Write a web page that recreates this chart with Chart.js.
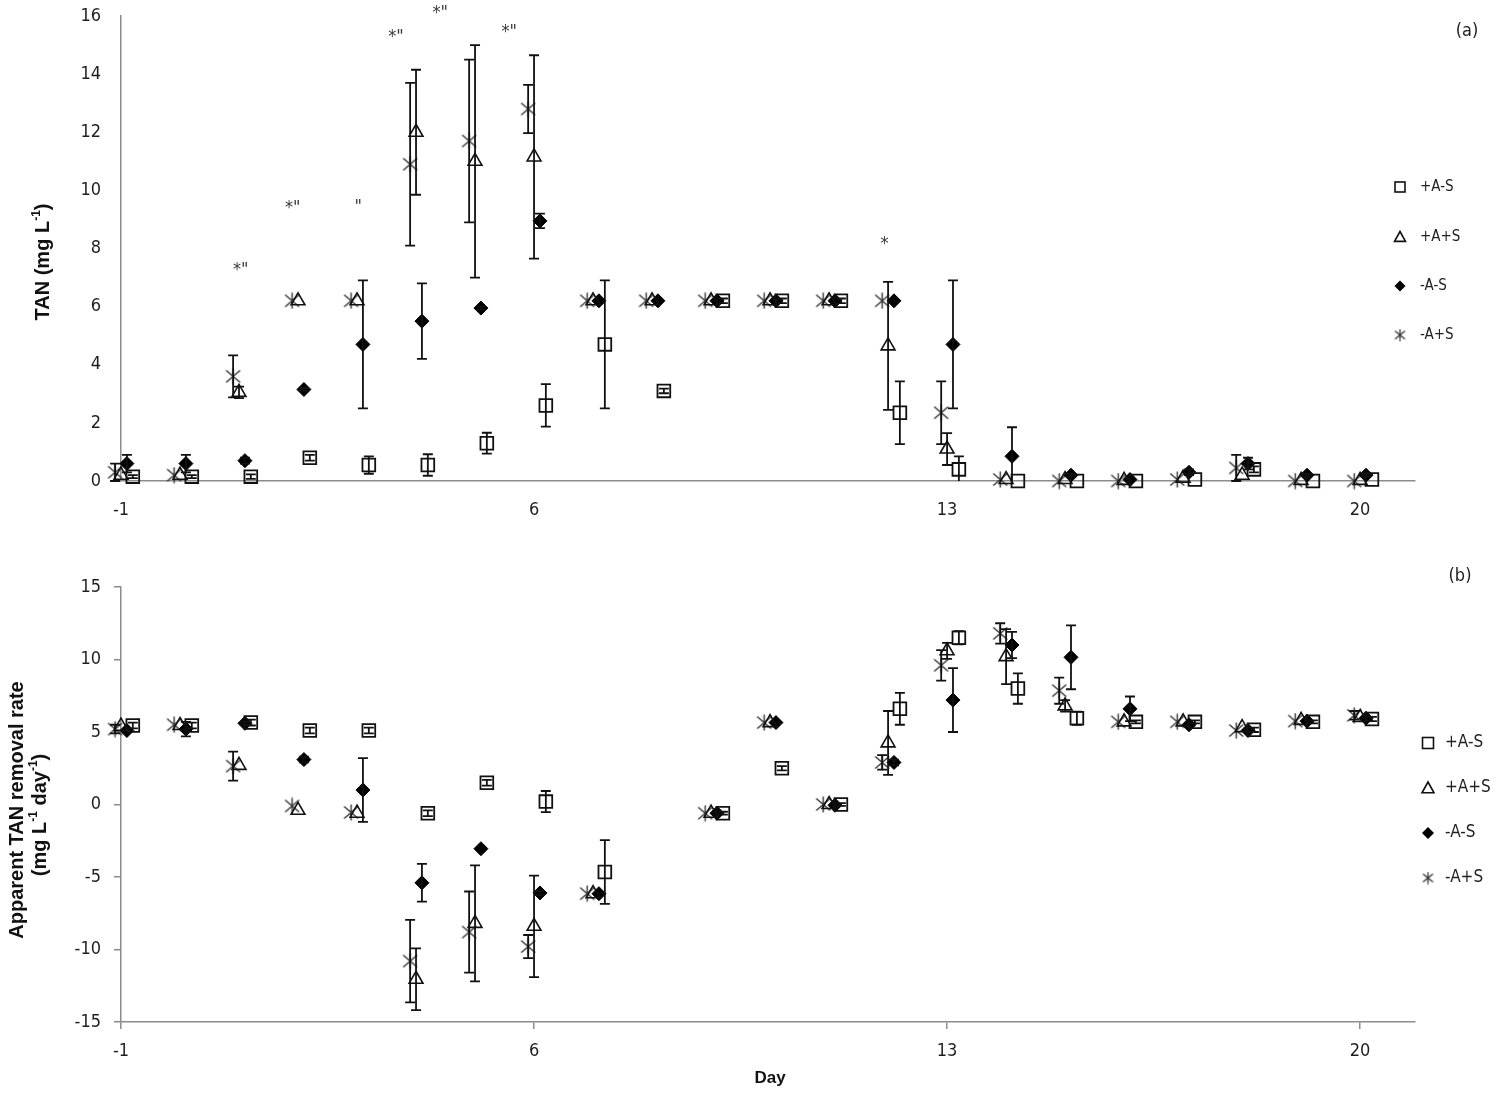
<!DOCTYPE html>
<html><head><meta charset="utf-8">
<script src="https://cdn.jsdelivr.net/npm/chart.js@4.4.1/dist/chart.umd.min.js"></script>
<style>
html,body{margin:0;padding:0;background:#fff;}
#wrap{position:relative;width:1500px;height:1095px;background:#fff;}
canvas{position:absolute;left:0;}
#cA{top:0;} #cB{top:540px;}
</style></head><body>
<div id="wrap">
<canvas id="cA" width="1500" height="540" style="width:1500px;height:540px"></canvas>
<canvas id="cB" width="1500" height="555" style="width:1500px;height:555px"></canvas>
</div>
<script>
// ---------------- DATA ----------------
const days = [-1,0,1,2,3,4,5,6,7,8,9,10,11,12,13,14,15,16,17,18,19,20];
const seriesNames = ['+A-S','+A+S','-A-S','-A+S'];
const xTickDays = [-1,6,13,20];

// Panel (a): TAN (mg L-1)
const tan_pAmS = [0.15,0.15,0.15,0.8,0.55,0.55,1.3,2.6,4.7,3.1,6.2,6.2,6.2,2.35,0.4,0.0,0.0,0.0,0.05,0.4,0.0,0.05];
const tan_pApS = [0.2,0.2,3.05,6.2,6.2,12.0,11.0,11.15,6.2,6.2,6.2,6.2,6.2,4.65,1.1,0.05,0.05,0.02,0.1,0.2,0.02,0.02];
const tan_mAmS = [0.6,0.6,0.7,3.15,4.7,5.5,5.95,8.95,6.2,6.2,6.2,6.2,6.2,6.2,4.7,0.85,0.2,0.05,0.3,0.6,0.2,0.2];
const tan_mApS = [0.3,0.2,3.6,6.2,6.2,10.9,11.7,12.8,6.2,6.2,6.2,6.2,6.2,6.2,2.35,0.05,0.0,0.0,0.05,0.45,0.0,0.0];
const tanErr_pAmS = [0.05,0.05,0.08,0.1,0.3,0.37,0.36,0.73,2.2,0.08,0.08,0.08,0.08,1.08,0.45,0,0,0,0,0.1,0,0];
const tanErr_pApS = [0,0,0.2,0,0,2.15,4.0,3.5,0,0,0,0,0,2.2,0.55,0,0,0,0,0,0,0];
const tanErr_mAmS = [0.3,0.3,0.1,0.05,2.2,1.3,0.05,0.25,0,0,0,0,0,0,2.2,1.0,0.05,0,0.1,0.2,0.05,0.05];
const tanErr_mApS = [0.3,0,0.72,0,0,2.8,2.8,0.83,0,0,0,0,0,0,1.08,0,0,0,0,0.45,0,0];

// Significance marks on panel (a)
const annotDay = [1.03,1.91,3.02,3.66,4.41,5.58,11.94];
const annotTAN = [7.26,9.39,9.43,15.27,16.1,15.45,8.15];
const annotText = ['*"','*"','"','*"','*"','*"','*'];

// Panel (b): apparent TAN removal rate (mg L-1 day-1); day 8 has no value
const rate_pAmS = [5.45,5.45,5.65,5.1,5.1,-0.6,1.5,0.2,-4.65,null,-0.6,2.5,0.0,6.6,11.5,8.0,5.95,5.7,5.7,5.15,5.7,5.9];
const rate_pApS = [5.4,5.45,2.7,-0.4,-0.6,-12.05,-8.2,-8.4,-6.15,null,-0.6,5.65,0.0,4.25,10.6,10.2,6.8,5.7,5.7,5.3,5.8,6.0];
const rate_mAmS = [5.1,5.2,5.6,3.1,1.0,-5.4,-3.05,-6.1,-6.15,null,-0.6,5.65,-0.05,2.9,7.2,11.0,10.15,6.6,5.5,5.1,5.75,5.95];
const rate_mApS = [5.2,5.5,2.65,-0.1,-0.55,-10.8,-8.8,-9.8,-6.15,null,-0.6,5.65,0.0,2.9,9.6,11.8,7.85,5.7,5.7,5.1,5.75,6.15];
const rateErr_pAmS = [0.2,0.2,0.2,0.2,0.2,0.2,0.2,0.73,2.2,null,0.1,0.15,0.1,1.1,0.45,1.05,0.45,0.1,0.1,0.15,0.1,0.15];
const rateErr_pApS = [0,0,0,0,0,2.13,4.0,3.5,0,null,0,0,0,2.2,0.55,1.9,0.4,0,0,0,0,0];
const rateErr_mAmS = [0,0.5,0.1,0.2,2.2,1.3,0,0.15,0,null,0,0,0,0.2,2.2,0.9,2.2,0.85,0,0,0,0];
const rateErr_mApS = [0.3,0,1.0,0,0,2.85,2.8,0.8,0,null,0,0,0,0.5,1.05,0.7,0.9,0,0,0,0,0.3];

// ---------------- STYLE ----------------
const seriesDayOffset = [0.2, 0, 0.1, -0.1];   // horizontal cluster offsets per series
const axisColor = '#8c8c8c';
const tickColor = '#1e1e1e';
const tickFam = "'DejaVu Sans Condensed','Liberation Sans',sans-serif";
const titleFam = "'Liberation Sans',Arial,sans-serif";
const tickFont = {family: tickFam, size: 18};

function makeStar(size, lw, color){
  const c = document.createElement('canvas'); c.width = size; c.height = size;
  const g = c.getContext('2d'); g.strokeStyle = color; g.lineWidth = lw; g.lineCap = 'butt';
  const m = 1.5;
  g.beginPath();
  g.moveTo(m, m + 1); g.lineTo(size - m, size - m - 1);
  g.moveTo(size - m, m + 1); g.lineTo(m, size - m - 1);
  g.moveTo(size / 2, 0.5); g.lineTo(size / 2, size - 0.5);
  g.stroke();
  return c;
}
const starImg = makeStar(17, 1.4, '#333');
const starLegA = makeStar(13, 1.3, '#333');
const starLegB = makeStar(13, 1.3, '#333');

const markerStyles = [
  {pointStyle:'rect', pointRadius:9, borderColor:'#111', borderWidth:1.8, backgroundColor:'rgba(255,255,255,0)'},
  {pointStyle:'triangle', pointRadius:8, borderColor:'#111', borderWidth:1.6, backgroundColor:'rgba(255,255,255,0)'},
  {pointStyle:'rectRot', pointRadius:7, borderColor:'#000', borderWidth:1, backgroundColor:'#000'},
  {pointStyle:starImg, pointRadius:8, borderColor:'#333', borderWidth:1, backgroundColor:'rgba(0,0,0,0)'}
];

function buildSets(valsList, errList){
  return valsList.map((vals, s) => ({
    label: seriesNames[s],
    data: days.map((d, i) => vals[i] === null ? null : {x: d + seriesDayOffset[s], y: vals[i], e: errList[s][i]}).filter(p => p),
    showLine: false,
    clip: false,
    ...markerStyles[s],
    pointHoverRadius: markerStyles[s].pointRadius
  }));
}

// error bars drawn through the chart's own scales
const errorBars = {
  id: 'errorBars',
  afterDatasetsDraw(chart){
    const {ctx, scales: {x, y}} = chart;
    ctx.save(); ctx.strokeStyle = '#111'; ctx.lineWidth = 1.8;
    chart.data.datasets.forEach(ds => {
      ds.data.forEach(p => {
        if (!p.e) return;
        const px = x.getPixelForValue(p.x);
        const hiV = p.y + p.e, loV = p.y - p.e;
        const top = y.getPixelForValue(Math.min(hiV, y.max));
        const bot = y.getPixelForValue(Math.max(loV, y.min));
        ctx.beginPath();
        ctx.moveTo(px, top); ctx.lineTo(px, bot);
        if (hiV <= y.max) { ctx.moveTo(px - 5, top); ctx.lineTo(px + 5, top); }
        if (loV >= y.min) { ctx.moveTo(px - 5, bot); ctx.lineTo(px + 5, bot); }
        ctx.stroke();
      });
    });
    ctx.restore();
  }
};

function drawRich(ctx, cx, cy, segs, size, supSize, rot){
  ctx.save();
  ctx.translate(cx, cy); if (rot) ctx.rotate(rot);
  ctx.textBaseline = 'middle'; ctx.textAlign = 'left'; ctx.fillStyle = '#111';
  let w = 0;
  segs.forEach(s => { ctx.font = 'bold ' + (s[1] ? supSize : size) + 'px ' + titleFam; w += ctx.measureText(s[0]).width; });
  let x = -w / 2;
  segs.forEach(s => {
    ctx.font = 'bold ' + (s[1] ? supSize : size) + 'px ' + titleFam;
    ctx.fillText(s[0], x, s[1] ? -size * 0.33 : 0);
    x += ctx.measureText(s[0]).width;
  });
  ctx.restore();
}

function drawLegendMarker(ctx, k, x, y, sz, starC){
  ctx.save(); ctx.strokeStyle = '#111'; ctx.fillStyle = '#000'; ctx.lineWidth = 1.6;
  const h = sz / 2;
  if (k === 0) { ctx.strokeRect(x - h + 0.5, y - h + 0.5, sz - 1, sz - 1); }
  else if (k === 1) { ctx.beginPath(); ctx.moveTo(x, y - h); ctx.lineTo(x + h, y + h * 0.8); ctx.lineTo(x - h, y + h * 0.8); ctx.closePath(); ctx.stroke(); }
  else if (k === 2) { ctx.beginPath(); ctx.moveTo(x, y - h); ctx.lineTo(x + h, y); ctx.lineTo(x, y + h); ctx.lineTo(x - h, y); ctx.closePath(); ctx.fill(); }
  else { ctx.drawImage(starC, x - starC.width / 2, y - starC.height / 2); }
  ctx.restore();
}

function decoPlugin(cfg){
  return {
    id: 'deco',
    afterDraw(chart){
      const ctx = chart.ctx;
      cfg.yTitle.forEach(t => drawRich(ctx, t.x, t.y, t.segs, 20, 12, -Math.PI / 2));
      if (cfg.xTitle) drawRich(ctx, cfg.xTitle.x, cfg.xTitle.y, [[cfg.xTitle.text, 0]], 17, 11, 0);
      ctx.save();
      ctx.font = '18px ' + tickFam; ctx.fillStyle = '#222'; ctx.textAlign = 'center'; ctx.textBaseline = 'middle';
      ctx.fillText(cfg.panel.text, cfg.panel.x, cfg.panel.y);
      const L = cfg.legend;
      seriesNames.forEach((n, k) => {
        drawLegendMarker(ctx, k, L.mx, L.ys[k], L.msize, L.star);
        ctx.font = L.fsize + 'px ' + tickFam; ctx.fillStyle = '#222'; ctx.textAlign = 'left'; ctx.textBaseline = 'middle';
        ctx.fillText(n, L.tx, L.ys[k]);
      });
      if (cfg.annot) {
        const {x, y} = chart.scales;
        ctx.font = '18px ' + tickFam; ctx.fillStyle = '#3a3a3a'; ctx.textAlign = 'center'; ctx.textBaseline = 'middle';
        annotText.forEach((t, i) => ctx.fillText(t, x.getPixelForValue(annotDay[i]), y.getPixelForValue(annotTAN[i])));
      }
      ctx.restore();
    }
  };
}

const xMin = -1, xMax = 20.93;
function xScale(withTicks, h, pad){
  return {
    type: 'linear', min: xMin, max: xMax,
    afterBuildTicks: ax => { ax.ticks = xTickDays.map(v => ({value: v})); },
    afterFit: s => { s.height = h; },
    grid: {display: true, drawOnChartArea: false, drawTicks: withTicks, tickLength: 7, color: axisColor, lineWidth: 1.5},
    border: {display: true, color: axisColor, width: 1.5},
    ticks: {font: tickFont, color: tickColor, padding: pad, maxRotation: 0, autoSkip: false}
  };
}
function yScale(min, max, step, withTicks, pad){
  return {
    min: min, max: max,
    afterFit: s => { s.width = 121; s.paddingTop = 0; s.paddingBottom = 0; },
    grid: {display: true, drawOnChartArea: false, drawTicks: withTicks, tickLength: 7, color: axisColor, lineWidth: 1.5},
    border: {display: true, color: axisColor, width: 1.5},
    ticks: {stepSize: step, font: tickFont, color: tickColor, padding: pad}
  };
}

new Chart(document.getElementById('cA'), {
  type: 'scatter',
  data: {datasets: buildSets([tan_pAmS, tan_pApS, tan_mAmS, tan_mApS], [tanErr_pAmS, tanErr_pApS, tanErr_mAmS, tanErr_mApS])},
  options: {
    responsive: false, animation: false, devicePixelRatio: 1,
    layout: {padding: {left: 0, right: 85, top: 16, bottom: 0}},
    plugins: {legend: {display: false}, tooltip: {enabled: false}},
    scales: {x: xScale(false, 59, 19), y: yScale(0, 16, 2, false, 20)}
  },
  plugins: [errorBars, decoPlugin({
    yTitle: [{x: 43, y: 262, segs: [['TAN (mg L', 0], ['-1', 1], [')', 0]]}],
    panel: {text: '(a)', x: 1467, y: 31},
    legend: {mx: 1400, tx: 1420, ys: [187, 237, 286, 335], msize: 11, fsize: 15, star: starLegA},
    annot: true
  })]
});

new Chart(document.getElementById('cB'), {
  type: 'scatter',
  data: {datasets: buildSets([rate_pAmS, rate_pApS, rate_mAmS, rate_mApS], [rateErr_pAmS, rateErr_pApS, rateErr_mAmS, rateErr_mApS])},
  options: {
    responsive: false, animation: false, devicePixelRatio: 1,
    layout: {padding: {left: 0, right: 85, top: 47, bottom: 0}},
    plugins: {legend: {display: false}, tooltip: {enabled: false}},
    scales: {x: xScale(true, 73, 12), y: yScale(-15, 15, 5, true, 13)}
  },
  plugins: [errorBars, decoPlugin({
    yTitle: [
      {x: 17, y: 270, segs: [['Apparent TAN removal rate', 0]]},
      {x: 40, y: 275, segs: [['(mg L', 0], ['-1', 1], [' day', 0], ['-1', 1], [')', 0]]}
    ],
    xTitle: {x: 770, y: 538, text: 'Day'},
    panel: {text: '(b)', x: 1460, y: 36},
    legend: {mx: 1428, tx: 1445, ys: [203, 248, 293, 338], msize: 12, fsize: 17, star: starLegB},
    annot: false
  })]
});
</script>
</body></html>
